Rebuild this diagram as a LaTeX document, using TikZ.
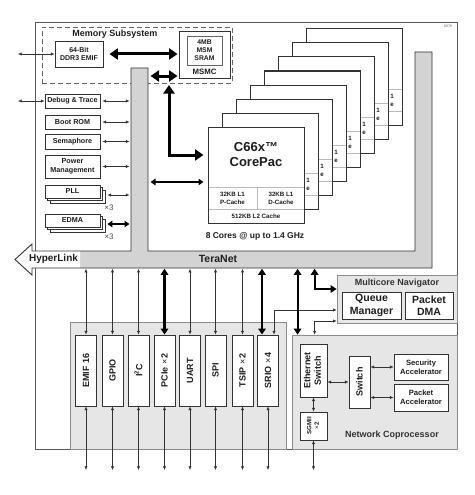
\documentclass[tikz,border=0pt]{standalone}
\usepackage{fontspec}
\setmainfont{Liberation Sans}
\usepackage{graphicx}
\usetikzlibrary{arrows.meta}
\definecolor{ln}{HTML}{333333}
\definecolor{bandc}{HTML}{D3D3D3}
\definecolor{lite}{HTML}{E6E6E6}
\definecolor{liteln}{HTML}{8C8C8C}
\definecolor{txt}{HTML}{1E1E1E}
\definecolor{cachel}{HTML}{BBBBBB}
\newcommand\myfs[2]{\fontsize{#1}{#2}\selectfont}
\tikzset{
  wbox/.style={draw=ln, line width=0.9pt, fill=white, inner sep=0pt, align=center, text=txt, font=\bfseries\myfs{7.2}{9}},
  lbox/.style={draw=liteln, line width=0.8pt, fill=lite, inner sep=0pt},
  lbl/.style={inner sep=0pt, text=txt, font=\bfseries\myfs{9}{11}, align=center},
  tar/.style={{Latex[length=3.6pt,width=3.2pt]}-{Latex[length=3.6pt,width=3.2pt]}, line width=0.5pt, draw=ln},
  mar/.style={{Triangle[length=5pt,width=6.5pt]}-{Triangle[length=5pt,width=6.5pt]}, line width=1.6pt, draw=black},
  kar/.style={{Triangle[length=8.5pt,width=11pt]}-{Triangle[length=8.5pt,width=11pt]}, line width=3pt, draw=black},
  kartwo/.style={{Triangle[length=6pt,width=7.5pt]}-{Triangle[length=6pt,width=7.5pt]}, line width=2.2pt, draw=black},
  pbox/.style={wbox, minimum width=21pt, minimum height=71pt, font=\bfseries\myfs{9}{10}},
  corebox/.style={draw=ln, line width=1pt, fill=white, minimum width=96pt, minimum height=96pt, inner sep=0pt},
  cline/.style={draw=cachel, line width=0.6pt},
  ctxt/.style={inner sep=0pt, align=center, text=txt, font=\bfseries\myfs{6.2}{8}},
  lbw/.style={wbox, minimum width=55pt},
}
\begin{document}
\begin{tikzpicture}[x=1pt,y=-1pt]
\useasboundingbox (0,0) rectangle (474,495);
% chip outline
\node[draw=black!65, line width=0.8pt, minimum width=422pt, minimum height=427pt, inner sep=0pt] (chip) at (246,235.5) {};
\node[inner sep=0pt, text=black!60, font=\myfs{3.5}{4}] (code) at (448,26) {6079};
% memory subsystem
\node[draw=black!60, dash pattern=on 5pt off 3pt, line width=0.8pt, minimum width=190pt, minimum height=56pt, inner sep=0pt] (memsub) at (137,55) {};
\node[lbl] (memlbl) at (115,34) {Memory Subsystem};
\node[wbox, minimum width=48pt, minimum height=26pt, font=\bfseries\myfs{7}{8.5}] (ddr) at (79,54) {64-Bit\\DDR3 EMIF};
\node[wbox, minimum width=51pt, minimum height=47pt] (msmc) at (204.5,54.5) {};
\node[wbox, draw=black!60, line width=0.7pt, minimum width=35pt, minimum height=29pt, font=\bfseries\myfs{6.8}{8}] (sram) at (204.5,50.5) {4MB\\MSM\\SRAM};
\node[lbl, font=\bfseries\myfs{7.8}{9}] (msmclbl) at (204.5,72) {MSMC};
% TeraNet band
\fill[bandc] (131,68) -- (148,68) -- (148,251) -- (415,251) -- (415,52) -- (432,52) -- (432,268) -- (32,268) -- (32,275) -- (15,259.5) -- (32,244) -- (32,251) -- (131,251) -- cycle;
\fill[white] (80,251) -- (32,251) -- (32,244) -- (15,259.5) -- (32,275) -- (32,268) -- (80,268) -- cycle;
\draw[draw=ln, line width=0.9pt, line join=miter] (131,68) -- (148,68) -- (148,251) -- (415,251) -- (415,52) -- (432,52) -- (432,268) -- (32,268) -- (32,275) -- (15,259.5) -- (32,244) -- (32,251) -- (131,251) -- cycle;
\node[lbl, font=\bfseries\myfs{10}{12}] (hyper) at (53.5,259) {HyperLink};
\node[lbl, font=\bfseries\myfs{10.5}{12}] (teranet) at (218,259) {TeraNet};
% cores (back ones show only their right-hand sliver)
\foreach \i in {7,6,...,1}{
  \pgfmathsetmacro\xo{208+14*\i}
  \pgfmathsetmacro\yo{127-14*\i}
  \node[corebox] (core\i) at (\xo+48,\yo+48) {};
  \draw[cline] (\xo+80,\yo+60) -- (\xo+95.5,\yo+60) (\xo+80,\yo+82) -- (\xo+95.5,\yo+82);
  \node[ctxt, font=\bfseries\myfs{6.2}{8}] (cs\i) at (\xo+86,\yo+71) {1\\e};
}
\node[corebox] (core0) at (256,175) {};
\draw[cline] (208.5,187) -- (303.5,187) (257,187) -- (257,209) (208.5,209) -- (303.5,209);
\node[ctxt] (cp0) at (232.5,198) {32KB L1\\P-Cache};
\node[ctxt] (cd0) at (281,198) {32KB L1\\D-Cache};
\node[ctxt] (cl0) at (256,216.5) {512KB L2 Cache};
\node[lbl, font=\bfseries\myfs{13}{15}] (coretitle) at (256,154.5) {C66x™\\CorePac};
\node[lbl, font=\bfseries\myfs{8.5}{10}] (cores8) at (255,236) {8 Cores @ up to 1.4 GHz};
% left column
\node[lbw, minimum height=14pt] (debug) at (72.5,101) {Debug \& Trace};
\node[lbw, minimum height=14pt] (boot) at (72.5,122) {Boot ROM};
\node[lbw, minimum height=15pt] (sema) at (72.5,141.5) {Semaphore};
\node[lbw, minimum height=23pt, font=\bfseries\myfs{7.2}{9.5}] (power) at (72.5,166.5) {Power\\Management};
\draw[draw=ln, line width=0.9pt, fill=white] (50,190) rectangle (105,203);
\draw[draw=ln, line width=0.9pt, fill=white] (47.5,187.5) rectangle (102.5,200.5);
\node[lbw, minimum height=13pt] (pll) at (72.5,191.5) {PLL};
\draw[draw=ln, line width=0.9pt, fill=white] (50,219) rectangle (105,232);
\draw[draw=ln, line width=0.9pt, fill=white] (47.5,216.5) rectangle (102.5,229.5);
\node[lbw, minimum height=13pt] (edma) at (72.5,220.5) {EDMA};
\node[inner sep=0pt, text=black!70, font=\myfs{8}{9}] (x3a) at (109,207.5) {×3};
\node[inner sep=0pt, text=black!70, font=\myfs{8}{9}] (x3b) at (109,236.5) {×3};
% coordinates
\coordinate (barL) at (129.5,0);
\coordinate (ext) at (18,0);
\coordinate (bandB) at (0,268.8);
\coordinate (botY) at (0,470);
% upper arrows
\draw[tar] (ext |- ddr.west) -- (ddr.west);
\draw[tar] (ext |- debug.west) -- (debug.west);
\foreach \n in {debug,boot,sema,power}{\draw[tar] ([xshift=2pt]\n.east) -- (\n.east -| barL);}
\coordinate (pllA) at ([xshift=7pt,yshift=-3.5pt]pll.east);
\coordinate (edmaA) at ([xshift=7pt,yshift=-3.5pt]edma.east);
\draw[tar] (pllA) -- (pllA -| barL);
\draw[mar] (edmaA) -- (edmaA -| barL);
\draw[kar] ([xshift=6pt]ddr.east) -- ([xshift=-1pt]ddr.east -| msmc.west);
\coordinate (barR) at (150.5,76);
\draw[kar] (barR) -- ([xshift=-1pt]barR -| msmc.west);
\coordinate (msdown) at (169,85);
\draw[kar] (msdown) |- ([xshift=-4pt]core0.west |- 0,155);
\coordinate (barRb) at (150.5,182);
\draw[mar, line width=1.2pt] (barRb) -- ([xshift=-4pt]core0.west |- barRb);
% lower section
\node[lbox, minimum width=216pt, minimum height=127pt] (periph) at (178,385.5) {};
\node[lbox, minimum width=120pt, minimum height=48pt] (mnav) at (397,299) {};
\node[lbox, minimum width=165pt, minimum height=114pt] (netcp) at (374.5,392) {};
\node[pbox] (emif) at (86,370.5) {\rotatebox{90}{EMIF 16}};
\node[pbox] (gpio) at (112.5,370.5) {\rotatebox{90}{GPIO}};
\node[pbox] (i2c) at (138.5,370.5) {\rotatebox{90}{I\textsuperscript{2}C}};
\node[pbox] (pcie) at (164.5,370.5) {\rotatebox{90}{PCIe\,\,{\mdseries×}2}};
\node[pbox] (uart) at (190,370.5) {\rotatebox{90}{UART}};
\node[pbox] (spi) at (215.5,370.5) {\rotatebox{90}{SPI}};
\node[pbox] (tsip) at (242.5,370.5) {\rotatebox{90}{TSIP\,\,{\mdseries×}2}};
\node[pbox] (srio) at (268,370.5) {\rotatebox{90}{SRIO\,\,{\mdseries×}4}};
\foreach \n in {emif,gpio,i2c,uart,spi,tsip}{\draw[tar] (\n.north |- bandB) -- (\n.north);}
\foreach \n in {emif,gpio,i2c,pcie,uart,spi,tsip,srio}{\draw[tar] (\n.south) -- (\n.south |- botY);}
\draw[kartwo] (pcie.north |- bandB) -- (pcie.north);
\coordinate (srioA) at ([xshift=-6pt]srio.north);
\coordinate (srioB) at ([xshift=6pt]srio.north);
\coordinate (ncA) at ([xshift=6pt]netcp.north west);
\coordinate (ncB) at ([xshift=23pt]netcp.north west);
\coordinate (mnA) at ([yshift=10pt]mnav.west);
\coordinate (mnB) at ([yshift=-11pt]mnav.west);
\coordinate (mnC) at ([yshift=-22pt]mnav.west);
\draw[kartwo] (srioA |- bandB) -- (srioA);
\draw[tar] (srioB) |- (mnB);
\draw[kartwo] (ncA |- bandB) -- (ncA);
\draw[kartwo] (ncB |- bandB) |- (mnA);
\draw[tar] (ncB) |- (mnC);
% multicore navigator
\node[lbl, text=black!80] (mnavlbl) at (397,283) {Multicore Navigator};
\node[wbox, minimum width=59pt, minimum height=27pt, font=\bfseries\myfs{10.5}{12.5}] (queue) at (371.5,305.5) {Queue\\Manager};
\node[wbox, minimum width=48pt, minimum height=27pt, font=\bfseries\myfs{10.5}{12.5}] (pdma) at (429,305.5) {Packet\\DMA};
% network coprocessor
\node[lbl, text=black!80] (netlbl) at (392,435) {Network Coprocessor};
\node[wbox, minimum width=27pt, minimum height=53pt, font=\bfseries\myfs{9}{10.5}] (eth) at (313.5,370.5) {\rotatebox{90}{\begin{tabular}{@{}c@{}}Ethernet\\Switch\end{tabular}}};
\node[wbox, minimum width=27pt, minimum height=28pt, font=\bfseries\myfs{6.2}{7.5}] (sgmii) at (313.5,426) {\rotatebox{90}{\begin{tabular}{@{}c@{}}SGMII\\{\mdseries×}2\end{tabular}}};
\node[wbox, minimum width=21pt, minimum height=52pt, font=\bfseries\myfs{9}{10.5}] (sw) at (359.5,382) {\rotatebox{90}{Switch}};
\node[wbox, minimum width=54pt, minimum height=26pt, font=\bfseries\myfs{7.6}{9}] (sec) at (421,367) {Security\\Accelerator};
\node[wbox, minimum width=54pt, minimum height=27pt, font=\bfseries\myfs{7.6}{9}] (pacc) at (421,397.5) {Packet\\Accelerator};
\draw[tar] (eth.south) -- (sgmii.north);
\draw[tar] (sgmii.south) -- (sgmii.south |- botY);
\draw[tar] (eth.east |- sw.west) -- (sw.west);
\draw[tar] (sw.east |- sec.west) -- (sec.west);
\draw[tar] (sw.east |- pacc.west) -- (pacc.west);
\end{tikzpicture}
\end{document}
